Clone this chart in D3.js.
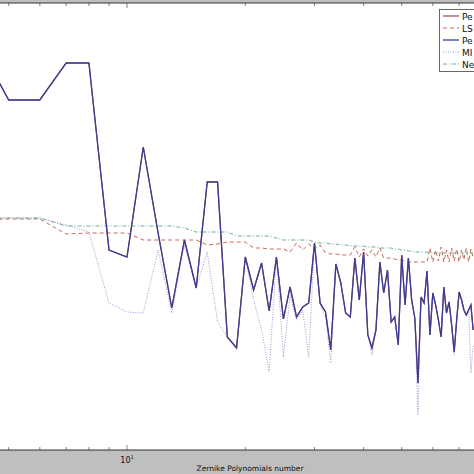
<!DOCTYPE html><html><head><meta charset="utf-8"><script src="https://cdn.jsdelivr.net/npm/d3@7"></script>
<style>body{margin:0}svg{display:block}</style></head><body><script>
// x: Zernike polynomial number; values: error (arbitrary units, higher = larger)
const nums = d3.range(4, 77);
const toV = a => a.map(p => (450 - p) / 100);
const perf = toV([30,100,100,63,63,250,257,147,233,308,240,288,182,182,337,348,257,290,263,311,257,319,287,317,307,303,243,303,312,350,264,283,313,317,258,300,252,335,348,330,262,293,270,322,317,345,255,305,258,300,318,383,297,303,271,335,293,305,320,337,287,313,302,325,352,320,292,300,310,315,310,305,330]);
const mi = toV([218,218,218,225,232,303,312,313,250,313,245,288,252,322,337,348,257,300,330,372,257,357,295,320,310,357,243,305,318,363,264,283,313,317,258,300,252,335,355,330,262,293,270,322,317,345,255,305,258,300,318,415,297,303,271,335,293,305,320,337,287,313,302,325,355,320,292,300,310,315,310,373,345]);
const ls = toV([220,219,219,234,233,233,233,240,240,240,240,240,245,244,242,242,242,248,248,249,249,249,252,243,250,244,249,245,253,254,254,255,255,255,247,257,249,256,250,257,248,258,258,258,259,260,260,261,262,262,262,262,262,262,262,248,262,250,261,247,262,250,262,248,261,249,262,250,260,248,262,249,258]);
const ne = toV([218,218,218,226,226,226,226,226,226,226,228,232,232,232,232,236,236,236,236,236,238,240,240,240,240,240,242,243,243,244,244,245,245,246,246,246,246,247,247,247,248,248,248,248,249,249,250,250,251,251,252,252,252,252,252,253,253,253,253,253,253,253,253,253,253,253,253,253,253,253,253,253,253]);
const legendLabels = ["Pe","LS","Pe","MI","Ne"];
const xTicks = [10];

const W=474,H=474, pTop=3, pBot=450;
const svg=d3.select("body").append("svg").attr("width",W).attr("height",H);
svg.append("rect").attr("width",W).attr("height",H).attr("fill","#bfbfbf");
svg.append("rect").attr("x",0).attr("y",pTop).attr("width",W).attr("height",pBot-pTop).attr("fill","#fff");
const x=d3.scaleLog().domain([10,10**(1+347/393)]).range([127,474]);
const y=d3.scaleLinear().domain([0,4.5]).range([450,0]);
const g=svg.append("g");
const line=d=>d3.line().x((v,i)=>x(nums[i])).y(v=>y(v))(d);
const series=[
 {d:perf,c:"#a04848",dash:null,w:1.2},
 {d:ls,c:"#c8685a",dash:"4,3",w:1},
 {d:ne,c:"#5aa58c",dash:"4,2,1,2",w:0.9},
 {d:mi,c:"#9a9ad0",dash:"1,1.5",w:1},
 {d:perf,c:"#3c3c96",dash:null,w:1.3}];
series.forEach(s=>g.append("path").attr("d",line(s.d)).attr("fill","none").attr("stroke",s.c).attr("stroke-width",s.w).attr("stroke-dasharray",s.dash));
const minor=[4,5,6,7,8,9,20,30,40,50,60,70];
svg.append("line").attr("x1",0).attr("x2",W).attr("y1",pBot).attr("y2",pBot).attr("stroke","#333");
svg.append("line").attr("x1",0).attr("x2",W).attr("y1",pTop).attr("y2",pTop).attr("stroke","#333");
minor.concat(xTicks).forEach(n=>{const L=xTicks.includes(n)?5:3;
 svg.append("line").attr("x1",x(n)).attr("x2",x(n)).attr("y1",pBot).attr("y2",pBot-L).attr("stroke","#333").attr("stroke-width",0.6);
 svg.append("line").attr("x1",x(n)).attr("x2",x(n)).attr("y1",pTop).attr("y2",pTop+L).attr("stroke","#333").attr("stroke-width",0.6);});
xTicks.forEach(n=>{const t=svg.append("text").attr("x",x(n)).attr("y",463).attr("text-anchor","middle").attr("font-family","DejaVu Sans").attr("font-size",8).attr("fill","#111");
 t.append("tspan").text("10");t.append("tspan").attr("dy",-4).attr("font-size",5).text("1");});
svg.append("text").attr("x",250).attr("y",471).attr("text-anchor","middle").attr("font-family","DejaVu Sans").attr("font-size",7.5).attr("fill","#111").text("Zernike Polynomials number");
const lg=svg.append("g");
lg.append("rect").attr("x",439.5).attr("y",9.5).attr("width",60).attr("height",62).attr("fill","#fff").attr("stroke","#444").attr("stroke-width",0.8);
const order=[series[0],series[1],series[4],series[3],series[2]];
legendLabels.forEach((l,i)=>{const yy=16+i*12;const s=order[i];
 lg.append("line").attr("x1",443).attr("x2",459).attr("y1",yy).attr("y2",yy).attr("stroke",s.c).attr("stroke-width",s.w).attr("stroke-dasharray",s.dash);
 lg.append("text").attr("x",462).attr("y",yy+3.5).attr("font-family","DejaVu Sans").attr("font-size",9).attr("fill","#111").text(l);});
</script></body></html>
